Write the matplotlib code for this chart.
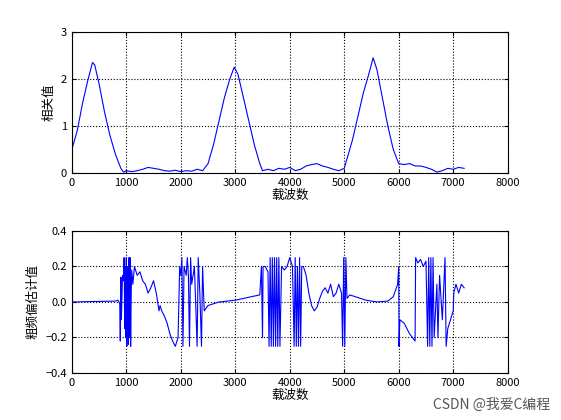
import matplotlib
matplotlib.use("Agg")
import matplotlib.pyplot as plt

plt.rcParams['font.family'] = ['Noto Sans CJK SC', 'DejaVu Sans']

# correlation value vs subcarrier
corr_x = [0, 100, 200, 300, 380, 420, 500, 600, 700, 800, 900, 950, 1000, 1100, 1200, 1300,
          1400, 1500, 1600, 1700, 1800, 1900, 2000, 2100, 2200, 2300, 2400, 2500, 2600, 2700,
          2800, 2900, 2980, 3050, 3150, 3250, 3350, 3450, 3500, 3600, 3700, 3800, 3900, 4000,
          4100, 4200, 4300, 4400, 4500, 4600, 4700, 4800, 4900, 5000, 5050, 5150, 5250, 5350,
          5450, 5530, 5600, 5700, 5800, 5900, 6000, 6100, 6200, 6300, 6400, 6500, 6600, 6700,
          6800, 6900, 7000, 7100, 7200]
corr_y = [0.5, 0.9, 1.5, 2.0, 2.35, 2.3, 1.9, 1.3, 0.8, 0.4, 0.1, 0.02, 0.05, 0.03, 0.05, 0.08,
          0.12, 0.1, 0.08, 0.05, 0.04, 0.06, 0.03, 0.05, 0.04, 0.08, 0.05, 0.2, 0.6, 1.1,
          1.6, 2.0, 2.25, 2.1, 1.6, 1.1, 0.6, 0.2, 0.05, 0.08, 0.05, 0.1, 0.08, 0.12,
          0.05, 0.08, 0.15, 0.18, 0.2, 0.15, 0.12, 0.08, 0.05, 0.1, 0.3, 0.7, 1.2, 1.7,
          2.1, 2.45, 2.2, 1.6, 1.0, 0.5, 0.2, 0.18, 0.2, 0.15, 0.15, 0.12, 0.08, 0.02,
          0.05, 0.1, 0.08, 0.12, 0.1]

# coarse frequency offset estimate vs subcarrier
est = [(0, 0), (800, 0.005), (850, 0.01), (880, -0.01), (890, -0.22), (900, 0.14), (910, -0.1),
       (930, 0.15), (950, 0.12), (960, 0.25), (970, -0.15), (980, 0.2), (990, -0.2), (1000, 0.25),
       (1010, -0.25), (1020, 0.2), (1040, -0.24), (1050, 0.25), (1060, -0.2), (1070, 0.25),
       (1080, -0.25), (1090, 0.05), (1100, 0.18), (1120, 0.1), (1150, 0.2), (1200, 0.15),
       (1250, 0.17), (1300, 0.12), (1350, 0.1), (1400, 0.05), (1450, 0.08), (1500, 0.12),
       (1550, 0.05), (1600, -0.05), (1620, -0.02), (1650, -0.05), (1700, -0.08), (1750, -0.12),
       (1800, -0.18), (1850, -0.22), (1900, -0.25), (1950, -0.2), (1980, 0.2), (2000, 0.15),
       (2020, 0.25), (2040, -0.25), (2060, 0.2), (2100, 0.15), (2120, 0.25), (2140, 0.15),
       (2160, -0.25), (2180, 0.25), (2200, 0.1), (2250, 0.2), (2300, -0.25), (2320, 0.25),
       (2350, 0.05), (2380, -0.25), (2400, 0.2), (2430, -0.05), (2500, -0.02), (2700, 0),
       (3000, 0.01), (3300, 0.03), (3450, 0.04), (3480, 0.2), (3500, -0.2), (3510, 0.2),
       (3550, 0.2), (3600, 0.17), (3620, -0.25), (3640, 0.25), (3660, -0.25), (3680, 0.25),
       (3700, -0.25), (3720, 0.25), (3740, -0.25), (3760, 0.25), (3780, -0.25), (3800, 0.25),
       (3820, -0.25), (3850, 0.2), (3900, 0.18), (3950, 0.2), (4000, 0.25), (4050, 0.2),
       (4080, -0.25), (4100, 0.25), (4120, -0.25), (4140, 0.2), (4160, -0.25), (4180, 0.25),
       (4200, -0.25), (4220, 0.2), (4250, 0.2), (4300, 0.15), (4350, 0.05), (4400, -0.02),
       (4450, -0.05), (4500, -0.03), (4550, 0.02), (4600, 0.06), (4650, 0.08), (4700, 0.05),
       (4750, 0.1), (4800, 0.03), (4850, 0.05), (4900, 0.1), (4950, 0.05), (4970, -0.25),
       (4990, 0.25), (5010, -0.25), (5030, 0.25), (5050, 0.02), (5100, 0.04), (5200, 0.03),
       (5400, 0.01), (5600, 0), (5800, 0.005), (5900, 0.03), (5980, 0.1), (6000, 0.2),
       (6005, -0.25), (6020, -0.1), (6100, -0.12), (6200, -0.18), (6300, -0.22), (6310, 0.25),
       (6350, 0.22), (6400, 0.24), (6450, 0.2), (6500, 0.23), (6530, -0.25), (6550, 0.25),
       (6570, -0.25), (6590, 0.25), (6610, -0.25), (6630, 0.25), (6650, -0.2), (6700, 0.1),
       (6720, -0.2), (6750, 0.15), (6800, -0.1), (6850, 0.25), (6870, -0.25), (6900, -0.15),
       (6950, -0.1), (7000, -0.05), (7010, 0.05), (7050, 0.1), (7100, 0.05), (7150, 0.1),
       (7200, 0.08)]
est_x = [p[0] for p in est]
est_y = [p[1] for p in est]

fig = plt.figure(figsize=(5.61, 4.2), dpi=100)
ax1 = fig.add_axes([0.128, 0.588, 0.777, 0.336])
ax2 = fig.add_axes([0.128, 0.112, 0.777, 0.338])

for ax in (ax1, ax2):
    ax.grid(True, linestyle=':', color='black', linewidth=0.8)
    ax.set_xlim(0, 8000)
    ax.set_xticks(range(0, 8001, 1000))
    ax.tick_params(direction='in', labelsize=8, length=3, top=True, right=True)
    ax.set_xlabel('载波数', fontsize=9, labelpad=1)

ax1.plot(corr_x, corr_y, color='#0000ff', linewidth=0.8)
ax1.set_ylim(0, 3)
ax1.set_yticks([0, 1, 2, 3])
ax1.set_ylabel('相关值', fontsize=9)

ax2.plot(est_x, est_y, color='#0000ff', linewidth=0.8)
ax2.set_ylim(-0.4, 0.4)
ax2.set_yticks([-0.4, -0.2, 0, 0.2, 0.4])
ax2.set_ylabel('粗频偏估计值', fontsize=9)

fig.text(0.98, 0.02, 'CSDN @我爱C编程', ha='right', va='bottom', fontsize=10, color='#555555')

fig.savefig('out.png', dpi=100)
